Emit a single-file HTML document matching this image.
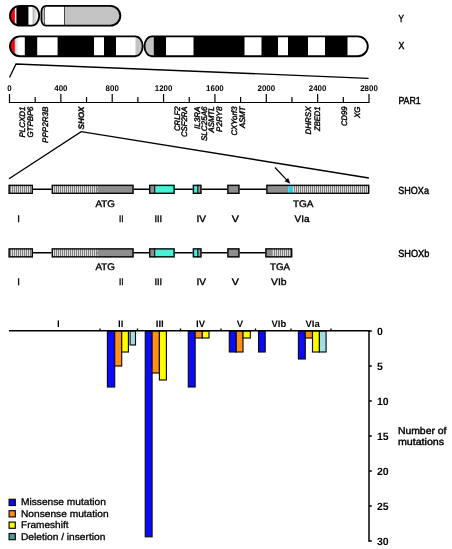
<!DOCTYPE html>
<html><head><meta charset="utf-8"><title>SHOX mutations</title>
<style>
html,body{margin:0;padding:0;background:#fff}
svg{display:block}
text{font-family:"Liberation Sans",Arial,sans-serif;fill:#000;stroke:#000;stroke-width:.3px;text-rendering:geometricPrecision}
.g{font-size:8px;font-style:italic;stroke-width:.4px}
.gb{font-size:8px;font-style:italic;font-weight:bold}
.n{font-size:8.2px;font-weight:bold;stroke:none}
.l{font-size:9.6px;stroke-width:.38px}
.r{font-size:9.8px;stroke-width:.4px}
.r2{font-size:10.3px;stroke-width:.45px}
.e{font-size:9.6px;font-weight:bold;stroke:none}
.a{font-size:10.5px;font-weight:bold;stroke:none}
.lg{font-size:9.7px}
</style></head><body>
<svg width="452" height="549" viewBox="0 0 452 549">
<defs>
<pattern id="st" width="2" height="10" patternUnits="userSpaceOnUse"><rect width="1" height="10" fill="#7e7e7e"/><rect x="1" width="1" height="10" fill="#dcdcdc"/></pattern>
<linearGradient id="gy" x1="0" x2="1"><stop offset="0" stop-color="#fff"/><stop offset="0.12" stop-color="#fff"/><stop offset="0.22" stop-color="#bcbcbc"/><stop offset="0.7" stop-color="#f2f2f2"/><stop offset="1" stop-color="#fff"/></linearGradient>
<linearGradient id="gx" x1="0" x2="1"><stop offset="0" stop-color="#fff"/><stop offset="0.04" stop-color="#9dd"/><stop offset="0.12" stop-color="#cdd"/><stop offset="0.3" stop-color="#f4f4f4"/><stop offset="0.5" stop-color="#fff"/></linearGradient>
</defs>
<rect width="452" height="549" fill="#fff"/>

<clipPath id="cyp"><path d="M19.95,5.90 H31.70 A7.50,9.85 0 0 1 31.70,25.60 H19.95 A10.00,9.85 0 0 1 19.95,5.90 Z"/></clipPath><clipPath id="cyq"><path d="M46.00,5.90 H110.30 A10.00,9.85 0 0 1 110.30,25.60 H46.00 A4.50,5.50 0 0 1 41.50,20.10 V11.40 A4.50,5.50 0 0 1 46.00,5.90 Z"/></clipPath><clipPath id="cxp"><path d="M19.95,36.40 H135.20 A7.50,9.90 0 0 1 135.20,56.20 H19.95 A10.00,9.90 0 0 1 19.95,36.40 Z"/></clipPath><clipPath id="cxq"><path d="M152.00,36.40 H357.80 A10.00,9.90 0 0 1 357.80,56.20 H152.00 A7.50,9.90 0 0 1 152.00,36.40 Z"/></clipPath>
<g clip-path="url(#cyp)"><rect x="9" y="5" width="32" height="22" fill="#fff"/><rect x="9" y="5" width="5.9" height="22" fill="#f00"/><rect x="16.4" y="5" width="12" height="22" fill="#000"/><rect x="31" y="5" width="9" height="22" fill="url(#gy)"/></g>
<path d="M19.95,5.90 H31.70 A7.50,9.85 0 0 1 31.70,25.60 H19.95 A10.00,9.85 0 0 1 19.95,5.90 Z" fill="none" stroke="#000" stroke-width="1.9"/>
<g clip-path="url(#cyq)"><rect x="40" y="5" width="82" height="22" fill="#fff"/><rect x="64.7" y="5" width="57" height="22" fill="#c3c3c3"/><rect x="64" y="5" width="0.9" height="22" fill="#333"/></g>
<path d="M46.00,5.90 H110.30 A10.00,9.85 0 0 1 110.30,25.60 H46.00 A4.50,5.50 0 0 1 41.50,20.10 V11.40 A4.50,5.50 0 0 1 46.00,5.90 Z" fill="none" stroke="#000" stroke-width="1.9"/>
<path d="M45.2,7 Q44,8.5 44.2,11 V20.5 Q44,23 45.2,24.5" fill="none" stroke="#111" stroke-width="0.9"/>
<g clip-path="url(#cxp)"><rect x="9" y="36" width="135" height="22" fill="#fff"/><rect x="9" y="36" width="5.9" height="22" fill="#f00"/><rect x="14.9" y="36" width="9" height="22" fill="url(#gx)"/>
<rect x="24.8" y="36" width="12.4" height="22" fill="#000"/>
<rect x="57.6" y="36" width="36.4" height="22" fill="#000"/>
<rect x="104.0" y="36" width="12.0" height="22" fill="#000"/>
<rect x="135.5" y="36" width="9" height="22" fill="#c3c3c3"/></g>
<path d="M19.95,36.40 H135.20 A7.50,9.90 0 0 1 135.20,56.20 H19.95 A10.00,9.90 0 0 1 19.95,36.40 Z" fill="none" stroke="#000" stroke-width="1.9"/>
<g clip-path="url(#cxq)"><rect x="143" y="36" width="227" height="22" fill="#fff"/><rect x="143" y="36" width="11" height="22" fill="#c3c3c3"/>
<rect x="153.8" y="36" width="12.2" height="22" fill="#000"/>
<rect x="193.5" y="36" width="51.0" height="22" fill="#000"/>
<rect x="261.5" y="36" width="16.5" height="22" fill="#000"/>
<rect x="288.0" y="36" width="20.0" height="22" fill="#000"/>
<rect x="325.0" y="36" width="22.5" height="22" fill="#000"/>
</g>
<path d="M152.00,36.40 H357.80 A10.00,9.90 0 0 1 357.80,56.20 H152.00 A7.50,9.90 0 0 1 152.00,36.40 Z" fill="none" stroke="#000" stroke-width="1.9"/>
<text x="398.4" y="21.9" class="r2" textLength="5.4" lengthAdjust="spacingAndGlyphs">Y</text>
<text x="398.4" y="49.4" class="r2" textLength="5.8" lengthAdjust="spacingAndGlyphs">X</text>
<text x="398.4" y="104.0" class="r2" textLength="22.3" lengthAdjust="spacingAndGlyphs">PAR1</text>
<text x="398.2" y="193.9" class="r2" textLength="30.8" lengthAdjust="spacingAndGlyphs">SHOXa</text>
<text x="398.2" y="257.0" class="r2" textLength="31.2" lengthAdjust="spacingAndGlyphs">SHOXb</text>
<polyline points="9.5,77.5 16,64 368.6,78.3" fill="none" stroke="#000" stroke-width="1.3"/>
<polyline points="9,178.8 81.2,131.6 368.9,178" fill="none" stroke="#000" stroke-width="1.35"/>
<path d="M9.5,102.5 H369" stroke="#000" stroke-width="1.2" fill="none"/>
<path d="M9.50,94.0 V103.1 M35.18,97.0 V103.1 M60.86,94.0 V103.1 M86.54,97.0 V103.1 M112.21,94.0 V103.1 M137.89,97.0 V103.1 M163.57,94.0 V103.1 M189.25,97.0 V103.1 M214.93,94.0 V103.1 M240.61,97.0 V103.1 M266.29,94.0 V103.1 M291.96,97.0 V103.1 M317.64,94.0 V103.1 M343.32,97.0 V103.1 M369.00,94.0 V103.1 " stroke="#000" stroke-width="1.2" fill="none"/>
<text x="9.5" y="91.0" class="n" textLength="4.4" lengthAdjust="spacingAndGlyphs" text-anchor="middle">0</text>
<text x="60.9" y="91.0" class="n" textLength="13.2" lengthAdjust="spacingAndGlyphs" text-anchor="middle">400</text>
<text x="112.2" y="91.0" class="n" textLength="13.2" lengthAdjust="spacingAndGlyphs" text-anchor="middle">800</text>
<text x="163.6" y="91.0" class="n" textLength="17.6" lengthAdjust="spacingAndGlyphs" text-anchor="middle">1200</text>
<text x="214.9" y="91.0" class="n" textLength="17.6" lengthAdjust="spacingAndGlyphs" text-anchor="middle">1600</text>
<text x="266.3" y="91.0" class="n" textLength="17.6" lengthAdjust="spacingAndGlyphs" text-anchor="middle">2000</text>
<text x="317.6" y="91.0" class="n" textLength="17.6" lengthAdjust="spacingAndGlyphs" text-anchor="middle">2400</text>
<text x="369.0" y="91.0" class="n" textLength="17.6" lengthAdjust="spacingAndGlyphs" text-anchor="middle">2800</text>
<text transform="translate(25.4,106.5) rotate(-90)" class="g" text-anchor="end" textLength="31.0" lengthAdjust="spacingAndGlyphs">PLCXD1</text>
<text transform="translate(33.4,106.5) rotate(-90)" class="g" text-anchor="end" textLength="31.0" lengthAdjust="spacingAndGlyphs">GTPBP6</text>
<text transform="translate(47.9,106.5) rotate(-90)" class="g" text-anchor="end" textLength="36.5" lengthAdjust="spacingAndGlyphs">PPP2R3B</text>
<text transform="translate(84.4,106.5) rotate(-90)" class="gb" text-anchor="end" textLength="23.0" lengthAdjust="spacingAndGlyphs">SHOX</text>
<text transform="translate(179.9,106.5) rotate(-90)" class="g" text-anchor="end" textLength="24.5" lengthAdjust="spacingAndGlyphs">CRLF2</text>
<text transform="translate(187.4,106.5) rotate(-90)" class="g" text-anchor="end" textLength="30.5" lengthAdjust="spacingAndGlyphs">CSF2RA</text>
<text transform="translate(199.9,106.5) rotate(-90)" class="g" text-anchor="end" textLength="22.5" lengthAdjust="spacingAndGlyphs">IL3RA</text>
<text transform="translate(206.9,106.5) rotate(-90)" class="g" text-anchor="end" textLength="34.5" lengthAdjust="spacingAndGlyphs">SLC25A6</text>
<text transform="translate(214.4,106.5) rotate(-90)" class="g" text-anchor="end" textLength="26.0" lengthAdjust="spacingAndGlyphs">ASMTL</text>
<text transform="translate(221.9,106.5) rotate(-90)" class="g" text-anchor="end" textLength="25.5" lengthAdjust="spacingAndGlyphs">P2RY8</text>
<text transform="translate(237.4,106.5) rotate(-90)" class="g" text-anchor="end" textLength="29.0" lengthAdjust="spacingAndGlyphs">CXYorf3</text>
<text transform="translate(244.9,106.5) rotate(-90)" class="g" text-anchor="end" textLength="21.5" lengthAdjust="spacingAndGlyphs">ASMT</text>
<text transform="translate(310.6,106.5) rotate(-90)" class="g" text-anchor="end" textLength="28.0" lengthAdjust="spacingAndGlyphs">DHRSX</text>
<text transform="translate(319.9,106.5) rotate(-90)" class="g" text-anchor="end" textLength="24.5" lengthAdjust="spacingAndGlyphs">ZBED1</text>
<text transform="translate(346.9,106.5) rotate(-90)" class="g" text-anchor="end" textLength="19.5" lengthAdjust="spacingAndGlyphs">CD99</text>
<text transform="translate(360.1,106.5) rotate(-90)" class="g" text-anchor="end" textLength="11.5" lengthAdjust="spacingAndGlyphs">XG</text>
<path d="M32,189.3 H267" stroke="#000" stroke-width="1.5"/>
<rect x="8.50" y="184.70" width="24.50" height="9.3" fill="url(#st)"/>
<rect x="9.20" y="185.40" width="23.10" height="7.90" fill="none" stroke="#0a0a0a" stroke-width="1.4"/>
<rect x="51.60" y="184.70" width="45.90" height="9.3" fill="url(#st)"/>
<rect x="97.50" y="184.70" width="36.20" height="9.3" fill="#8e8e8e"/>
<rect x="52.30" y="185.40" width="80.70" height="7.90" fill="none" stroke="#0a0a0a" stroke-width="1.4"/>
<rect x="149.00" y="184.70" width="5.70" height="9.3" fill="#8e8e8e"/>
<rect x="154.70" y="184.70" width="20.10" height="9.3" fill="#4af0d6"/>
<path d="M154.70,184.70 V194.00" stroke="#0a0a0a" stroke-width="1.1"/>
<rect x="149.70" y="185.40" width="24.40" height="7.90" fill="none" stroke="#0a0a0a" stroke-width="1.4"/>
<rect x="192.70" y="184.70" width="5.10" height="9.3" fill="#3eeee0"/>
<rect x="197.80" y="184.70" width="3.80" height="9.3" fill="#9a9a9a"/>
<path d="M197.80,184.70 V194.00" stroke="#0a0a0a" stroke-width="1.1"/>
<rect x="193.40" y="185.40" width="7.50" height="7.90" fill="none" stroke="#0a0a0a" stroke-width="1.4"/>
<rect x="227.20" y="184.70" width="12.40" height="9.3" fill="#8e8e8e"/>
<rect x="227.90" y="185.40" width="11.00" height="7.90" fill="none" stroke="#0a0a0a" stroke-width="1.4"/>
<rect x="266.20" y="184.70" width="22.30" height="9.3" fill="#8e8e8e"/>
<rect x="288.50" y="184.70" width="4.00" height="9.3" fill="#19d9ee"/>
<rect x="292.50" y="184.70" width="76.90" height="9.3" fill="url(#st)"/>
<rect x="266.90" y="185.40" width="101.80" height="7.90" fill="none" stroke="#0a0a0a" stroke-width="1.4"/>
<path d="M32,252.8 H267" stroke="#000" stroke-width="1.5"/>
<rect x="8.50" y="248.20" width="24.50" height="9.3" fill="url(#st)"/>
<rect x="9.20" y="248.90" width="23.10" height="7.90" fill="none" stroke="#0a0a0a" stroke-width="1.4"/>
<rect x="51.60" y="248.20" width="45.90" height="9.3" fill="url(#st)"/>
<rect x="97.50" y="248.20" width="36.20" height="9.3" fill="#8e8e8e"/>
<rect x="52.30" y="248.90" width="80.70" height="7.90" fill="none" stroke="#0a0a0a" stroke-width="1.4"/>
<rect x="149.00" y="248.20" width="5.70" height="9.3" fill="#8e8e8e"/>
<rect x="154.70" y="248.20" width="20.10" height="9.3" fill="#4af0d6"/>
<path d="M154.70,248.20 V257.50" stroke="#0a0a0a" stroke-width="1.1"/>
<rect x="149.70" y="248.90" width="24.40" height="7.90" fill="none" stroke="#0a0a0a" stroke-width="1.4"/>
<rect x="192.70" y="248.20" width="5.10" height="9.3" fill="#3eeee0"/>
<rect x="197.80" y="248.20" width="3.80" height="9.3" fill="#9a9a9a"/>
<path d="M197.80,248.20 V257.50" stroke="#0a0a0a" stroke-width="1.1"/>
<rect x="193.40" y="248.90" width="7.50" height="7.90" fill="none" stroke="#0a0a0a" stroke-width="1.4"/>
<rect x="227.20" y="248.20" width="12.40" height="9.3" fill="#8e8e8e"/>
<rect x="227.90" y="248.90" width="11.00" height="7.90" fill="none" stroke="#0a0a0a" stroke-width="1.4"/>
<rect x="265.20" y="248.20" width="7.30" height="9.3" fill="#8e8e8e"/>
<rect x="272.50" y="248.20" width="19.80" height="9.3" fill="url(#st)"/>
<rect x="265.90" y="248.90" width="25.70" height="7.90" fill="none" stroke="#0a0a0a" stroke-width="1.4"/>
<path d="M275,167.5 L289,182.3" stroke="#000" stroke-width="1.2"/>
<path d="M290.3,183.8 L284.6,181.3 L288.2,178 Z" fill="#000"/>
<text x="95.5" y="206.6" class="l" textLength="19.5" lengthAdjust="spacingAndGlyphs">ATG</text>
<text x="293.0" y="206.6" class="l" textLength="20.5" lengthAdjust="spacingAndGlyphs">TGA</text>
<text x="17.3" y="221.5" class="l">I</text>
<text x="119.0" y="221.5" class="l" textLength="4.6" lengthAdjust="spacingAndGlyphs">II</text>
<text x="154.5" y="221.5" class="l" textLength="7.6" lengthAdjust="spacingAndGlyphs">III</text>
<text x="196.5" y="221.5" class="l" textLength="9.5" lengthAdjust="spacingAndGlyphs">IV</text>
<text x="231.8" y="221.5" class="l" textLength="7.2" lengthAdjust="spacingAndGlyphs">V</text>
<text x="294.5" y="221.5" class="l" textLength="15.0" lengthAdjust="spacingAndGlyphs">VIa</text>
<text x="95.5" y="270.2" class="l" textLength="19.5" lengthAdjust="spacingAndGlyphs">ATG</text>
<text x="270.0" y="270.2" class="l" textLength="20.0" lengthAdjust="spacingAndGlyphs">TGA</text>
<text x="17.3" y="284.6" class="l">I</text>
<text x="119.0" y="284.6" class="l" textLength="4.6" lengthAdjust="spacingAndGlyphs">II</text>
<text x="154.5" y="284.6" class="l" textLength="7.6" lengthAdjust="spacingAndGlyphs">III</text>
<text x="196.5" y="284.6" class="l" textLength="9.5" lengthAdjust="spacingAndGlyphs">IV</text>
<text x="231.8" y="284.6" class="l" textLength="7.2" lengthAdjust="spacingAndGlyphs">V</text>
<text x="271.0" y="284.6" class="l" textLength="15.5" lengthAdjust="spacingAndGlyphs">VIb</text>
<rect x="107.40" y="331.0" width="7.30" height="56.0" fill="#0a0aff" stroke="#0c0c0c" stroke-width="1.15"/>
<rect x="114.70" y="331.0" width="7.00" height="35.0" fill="#ff9118" stroke="#0c0c0c" stroke-width="1.15"/>
<rect x="121.70" y="331.0" width="6.70" height="21.0" fill="#ffff00" stroke="#0c0c0c" stroke-width="1.15"/>
<rect x="130.10" y="331.0" width="5.40" height="14.0" fill="#a3dde3" stroke="#0c0c0c" stroke-width="1.15"/>
<rect x="145.25" y="331.0" width="6.85" height="205.8" fill="#0a0aff" stroke="#0c0c0c" stroke-width="1.15"/>
<rect x="152.10" y="331.0" width="7.30" height="42.0" fill="#ff9118" stroke="#0c0c0c" stroke-width="1.15"/>
<rect x="159.40" y="331.0" width="7.00" height="49.0" fill="#ffff00" stroke="#0c0c0c" stroke-width="1.15"/>
<rect x="188.30" y="331.0" width="6.85" height="56.0" fill="#0a0aff" stroke="#0c0c0c" stroke-width="1.15"/>
<rect x="195.15" y="331.0" width="7.15" height="7.0" fill="#ff9118" stroke="#0c0c0c" stroke-width="1.15"/>
<rect x="202.30" y="331.0" width="6.75" height="7.0" fill="#ffff00" stroke="#0c0c0c" stroke-width="1.15"/>
<rect x="229.30" y="331.0" width="6.95" height="21.0" fill="#0a0aff" stroke="#0c0c0c" stroke-width="1.15"/>
<rect x="236.25" y="331.0" width="6.75" height="21.0" fill="#ff9118" stroke="#0c0c0c" stroke-width="1.15"/>
<rect x="243.00" y="331.0" width="7.35" height="7.0" fill="#ffff00" stroke="#0c0c0c" stroke-width="1.15"/>
<rect x="258.55" y="331.0" width="6.65" height="21.0" fill="#0a0aff" stroke="#0c0c0c" stroke-width="1.15"/>
<rect x="298.40" y="331.0" width="6.90" height="28.0" fill="#0a0aff" stroke="#0c0c0c" stroke-width="1.15"/>
<rect x="305.30" y="331.0" width="7.20" height="7.0" fill="#ff9118" stroke="#0c0c0c" stroke-width="1.15"/>
<rect x="312.50" y="331.0" width="6.90" height="21.0" fill="#ffff00" stroke="#0c0c0c" stroke-width="1.15"/>
<rect x="319.40" y="331.0" width="6.70" height="21.0" fill="#a3dde3" stroke="#0c0c0c" stroke-width="1.15"/>
<path d="M9,330.8 H369.8 M369,330.2 V541.7" stroke="#000" stroke-width="1.5" fill="none"/>
<path d="M100.0,328.4 V331 M137.5,328.4 V331 M180.5,328.4 V331 M221.0,328.4 V331 M255.5,328.4 V331 M291.0,328.4 V331 M331.0,328.4 V331 M369,331.0 H371.8 M369,366.0 H371.8 M369,401.0 H371.8 M369,436.0 H371.8 M369,471.0 H371.8 M369,506.0 H371.8 M369,541.0 H371.8 " stroke="#000" stroke-width="1.3" fill="none"/>
<text x="377.0" y="334.8" class="a">0</text>
<text x="377.0" y="369.8" class="a">5</text>
<text x="377.0" y="404.8" class="a">10</text>
<text x="377.0" y="439.8" class="a">15</text>
<text x="377.0" y="474.8" class="a">20</text>
<text x="377.0" y="509.8" class="a">25</text>
<text x="377.0" y="544.8" class="a">30</text>
<text x="57.0" y="326.5" class="e">I</text>
<text x="118.0" y="326.5" class="e" textLength="5.3" lengthAdjust="spacingAndGlyphs">II</text>
<text x="155.7" y="326.5" class="e" textLength="8.1" lengthAdjust="spacingAndGlyphs">III</text>
<text x="196.0" y="326.5" class="e" textLength="9.0" lengthAdjust="spacingAndGlyphs">IV</text>
<text x="236.8" y="326.5" class="e" textLength="6.4" lengthAdjust="spacingAndGlyphs">V</text>
<text x="271.5" y="326.5" class="e" textLength="14.7" lengthAdjust="spacingAndGlyphs">VIb</text>
<text x="305.4" y="326.5" class="e" textLength="14.3" lengthAdjust="spacingAndGlyphs">VIa</text>
<text x="397.9" y="433.6" class="r" textLength="48.6" lengthAdjust="spacingAndGlyphs">Number of</text>
<text x="397.9" y="444.9" class="r" textLength="46.2" lengthAdjust="spacingAndGlyphs">mutations</text>
<rect x="9.1" y="499.3" width="6.2" height="6.2" fill="#0a0aff" stroke="#0a0a0a" stroke-width="1.2"/>
<text x="21.0" y="505.4" class="lg" textLength="84.8" lengthAdjust="spacingAndGlyphs">Missense mutation</text>
<rect x="9.1" y="510.7" width="6.2" height="6.2" fill="#ff9118" stroke="#0a0a0a" stroke-width="1.2"/>
<text x="21.0" y="516.8" class="lg" textLength="87.7" lengthAdjust="spacingAndGlyphs">Nonsense mutation</text>
<rect x="9.1" y="522.1" width="6.2" height="6.2" fill="#ffff00" stroke="#0a0a0a" stroke-width="1.2"/>
<text x="21.0" y="528.2" class="lg" textLength="47.5" lengthAdjust="spacingAndGlyphs">Frameshift</text>
<rect x="9.1" y="533.5" width="6.2" height="6.2" fill="#4e9a9a" stroke="#0a0a0a" stroke-width="1.2"/>
<text x="21.0" y="539.6" class="lg" textLength="84.3" lengthAdjust="spacingAndGlyphs">Deletion / insertion</text>
</svg></body></html>
